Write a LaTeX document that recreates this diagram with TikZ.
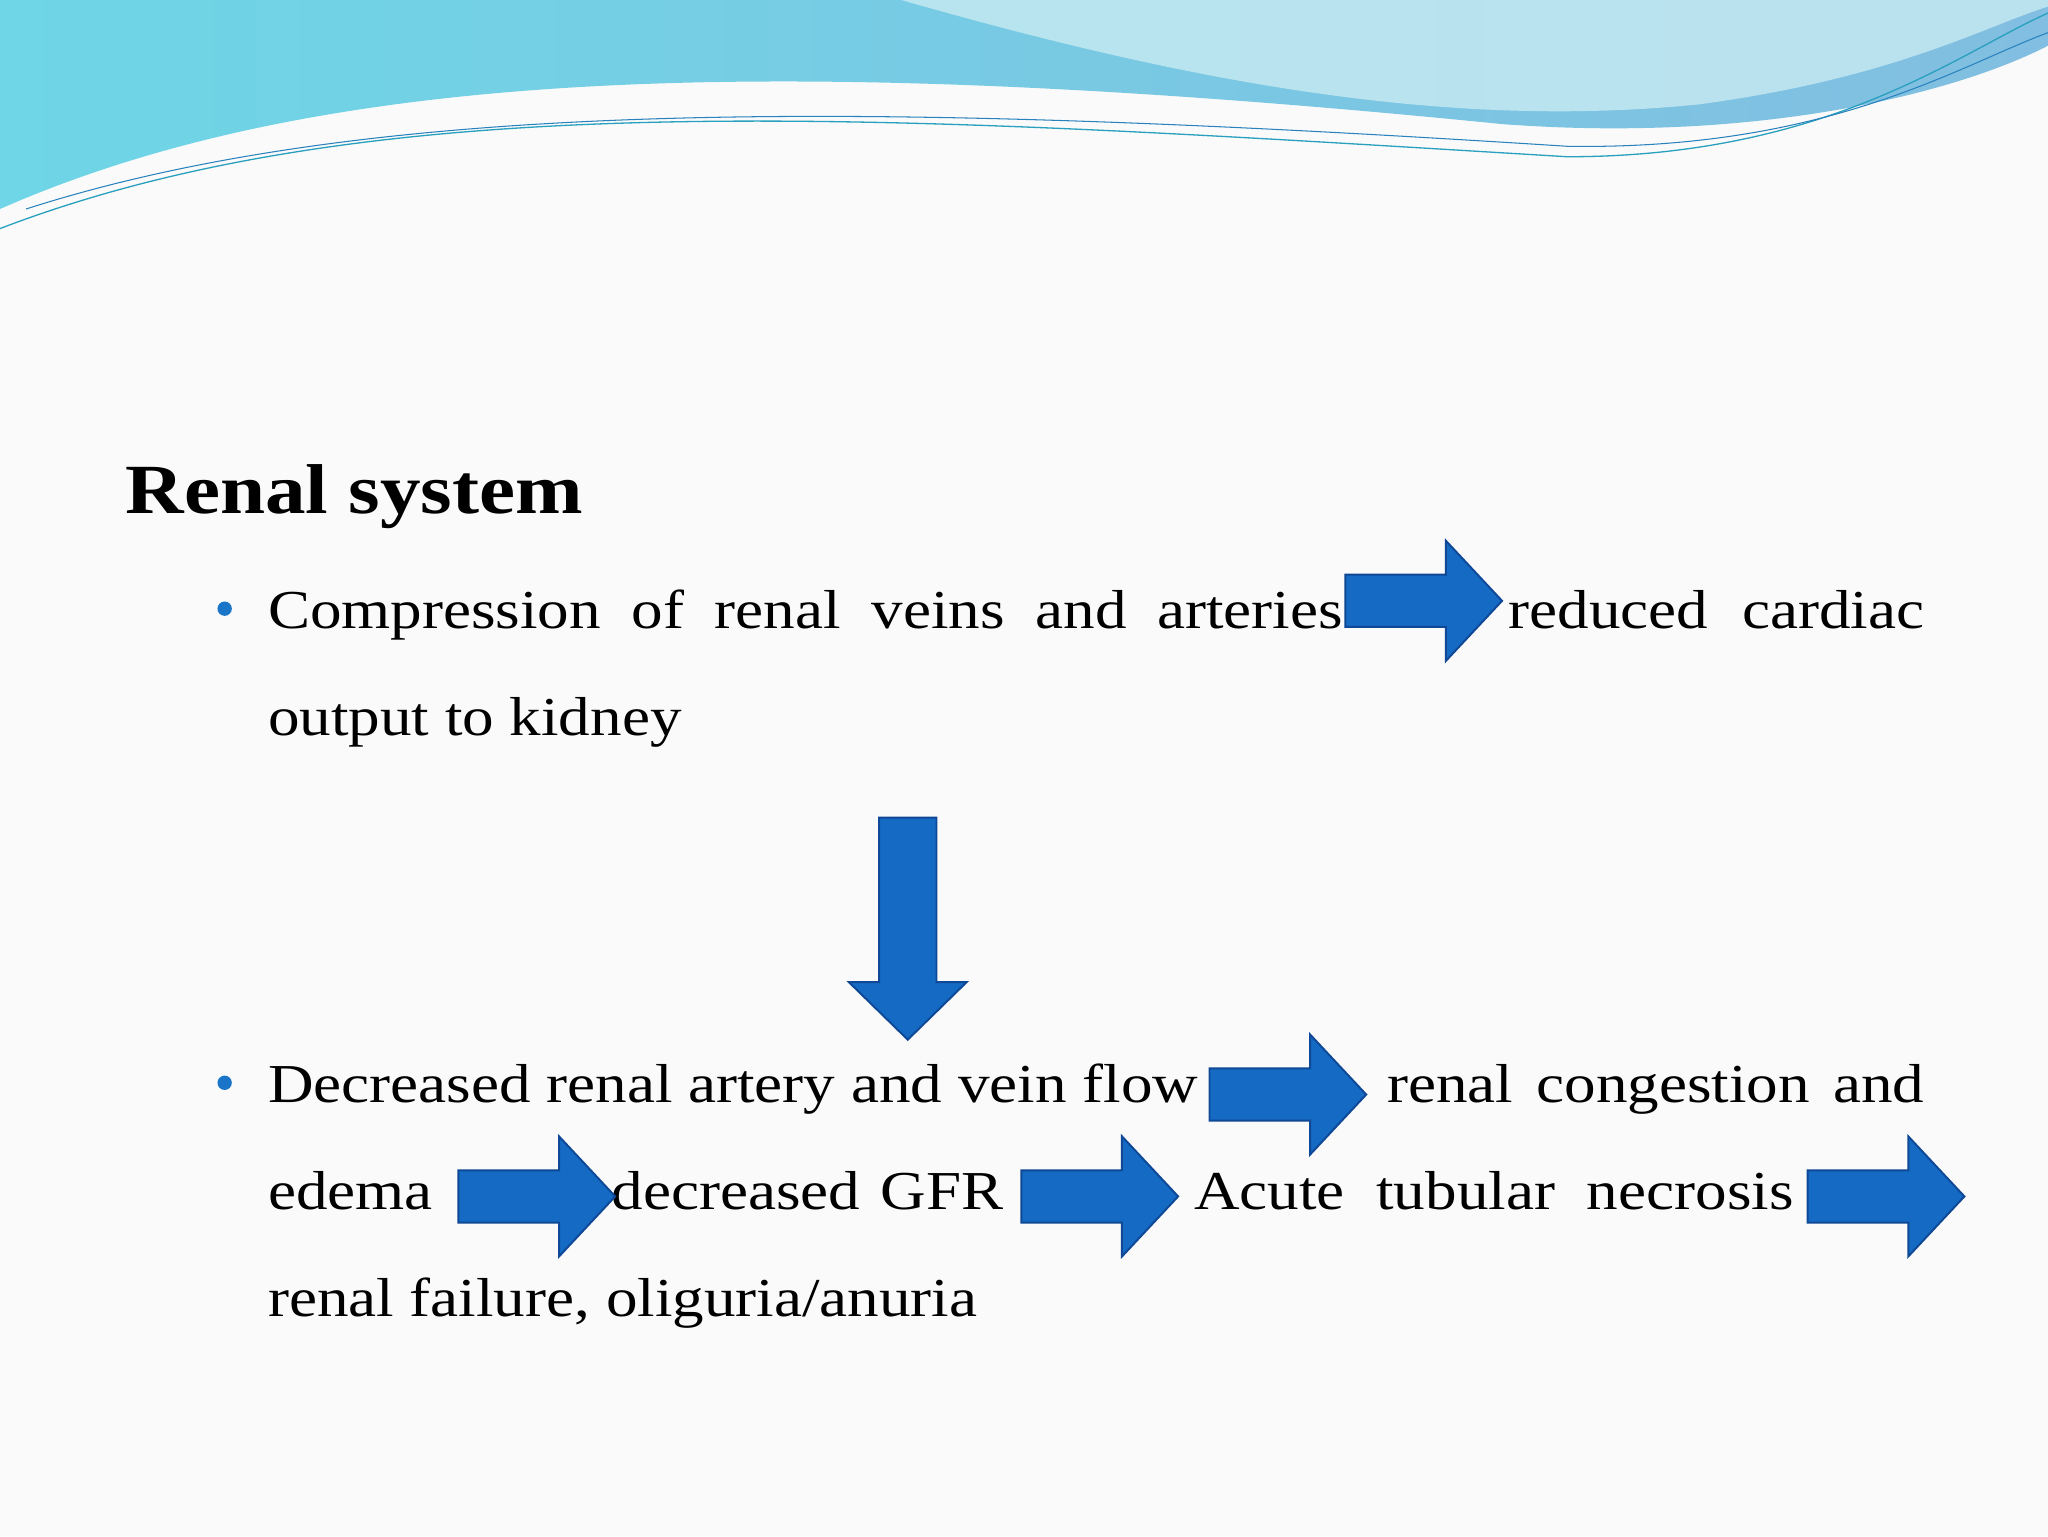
\documentclass[tikz,border=0pt]{standalone}
\usepackage{fontspec}
\setmainfont[FakeStretch=1.15]{Liberation Serif}
\definecolor{afill}{RGB}{21,106,196}
\definecolor{aline}{RGB}{14,72,150}
\definecolor{waveL}{RGB}{110,214,230}
\definecolor{waveR}{RGB}{130,190,225}
\definecolor{waveW}{RGB}{200,235,242}
\definecolor{lineA}{RGB}{40,160,190}
\definecolor{lineB}{RGB}{40,130,190}
\definecolor{bul}{RGB}{26,117,200}
\begin{document}
\begin{tikzpicture}[x=1pt,y=-1pt,
  arrowsty/.style={fill=afill,draw=aline,line width=1.5pt,line join=miter},
  txt/.style={anchor=base west,inner sep=0pt,font=\fontsize{42}{50}\selectfont},
  pics/rarr/.style={code={\path[arrowsty] (0,-20)--(77,-20)--(77,-46)--(120,0)--(77,46)--(77,20)--(0,20)--cycle;}}]
\useasboundingbox (0,0) rectangle (1568,1176);
\fill[white!96!gray] (0,0) rectangle (1568,1176);
% top waves
\shade[left color=waveL,right color=waveR]
 (0,160) .. controls (250,50) and (600,40) .. (1150,95) .. controls (1350,110) and (1500,70) .. (1568,35) -- (1568,0) -- (0,0) -- cycle;
\fill[waveW,opacity=0.8] (690,0) .. controls (900,60) and (1100,100) .. (1300,80) .. controls (1450,60) and (1520,20) .. (1568,5) -- (1568,0) -- cycle;
\draw[lineA,line width=1pt] (0,175) .. controls (300,60) and (700,90) .. (1200,120) .. controls (1400,120) and (1500,40) .. (1568,10);
\draw[lineB,line width=0.8pt] (20,160) .. controls (300,70) and (700,80) .. (1200,112) .. controls (1400,115) and (1500,50) .. (1568,25);
% title
\node[txt,font=\fontsize{54}{60}\selectfont\bfseries] (title) at (96,393) {Renal system};
% bullets
\fill[bul] (172,466) circle (5.5) (172,829) circle (5.5);
\node[txt] (l1a) at (205,481) {\makebox[823pt][s]{Compression of renal veins and arteries}};
\node[txt] (l1b) at (1155,481) {\makebox[318pt][s]{reduced cardiac}};
\node[txt] (l2) at (205,563) {output to kidney};
\node[txt] (l3a) at (205,844) {Decreased renal artery and vein flow};
\node[txt] (l3b) at (1062,844) {\makebox[411pt][s]{renal congestion and}};
\node[txt] (l4a) at (205,926) {edema};
\node[txt] (l4b) at (468,926) {\makebox[300pt][s]{decreased GFR}};
\node[txt] (l4c) at (914,926) {\makebox[459pt][s]{Acute tubular necrosis}};
\node[txt] (l5) at (205,1008) {renal failure, oliguria/anuria};
% arrows
\pic at (1030,460) {rarr};
\pic at (926,838) {rarr};
\pic at (351,916) {rarr};
\pic at (782,916) {rarr};
\pic at (1384,916) {rarr};
\path[arrowsty] (673,626)--(717,626)--(717,752)--(740,752)--(695,796)--(650,752)--(673,752)--cycle;
\end{tikzpicture}
\end{document}
